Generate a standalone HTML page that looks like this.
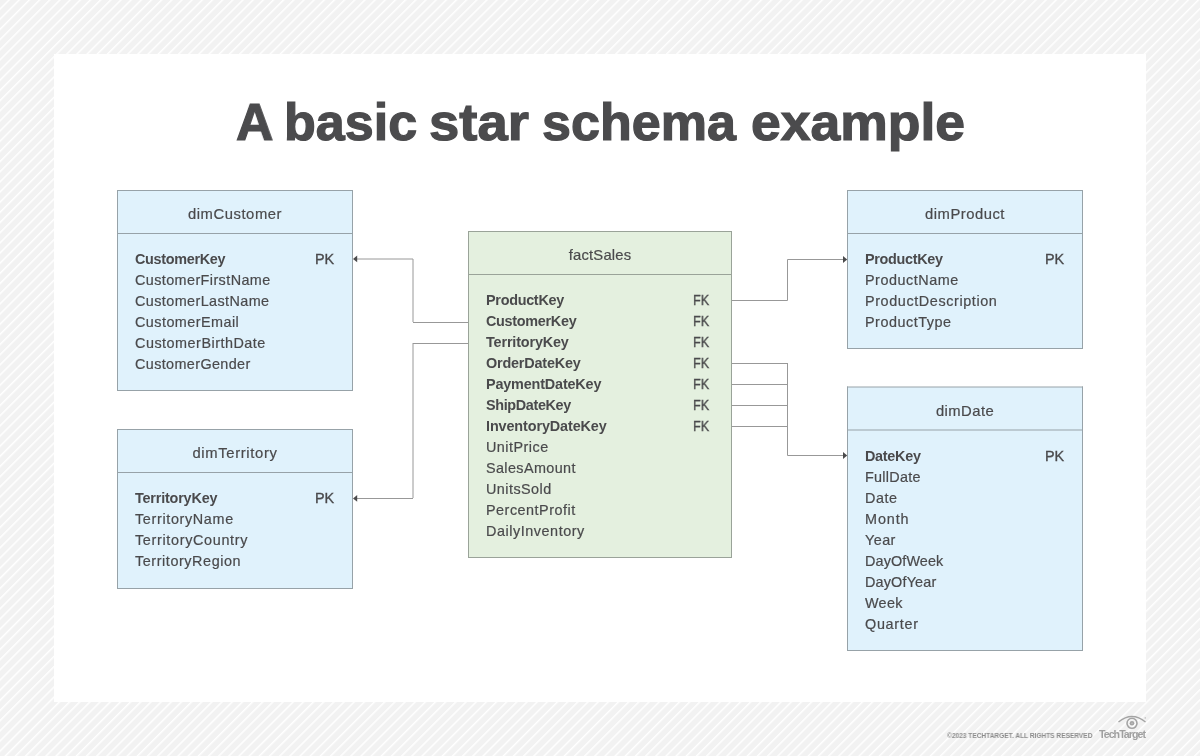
<!DOCTYPE html>
<html><head><meta charset="utf-8"><title>A basic star schema example</title>
<style>
*{margin:0;padding:0;box-sizing:border-box}
html,body{width:1200px;height:756px;overflow:hidden}
body{position:relative;font-family:"Liberation Sans",sans-serif;color:#4a4a4c;background:#f2f2f2}
svg{position:absolute;left:0;top:0}
.panel{position:absolute;left:54px;top:54px;width:1092px;height:648px;background:#fff}
.tw{position:absolute;font-weight:700;font-size:52px;line-height:60px;color:#4b4b4d;white-space:nowrap;transform-origin:0 0;-webkit-text-stroke:1.2px #4b4b4d}
.ht{position:absolute;text-align:center;font-size:14.8px;line-height:20px;white-space:nowrap;letter-spacing:0.55px}
.r{position:absolute;font-size:14.4px;line-height:21px;white-space:nowrap;letter-spacing:0.5px}
.r.b{font-weight:700;letter-spacing:-0.15px}
.k{position:absolute;font-size:14.4px;line-height:21px;white-space:nowrap}
.r,.k,.ht,.tw,.copy,.logo{will-change:transform}
.r,.ht{-webkit-text-stroke:0.2px #4a4a4c}
.k{-webkit-text-stroke:0.35px #4a4a4c}
.r.b{-webkit-text-stroke:0}
.copy{position:absolute;left:947px;top:730.5px;font-size:6.8px;font-weight:700;color:#8c8c8c;white-space:nowrap;line-height:9px;transform:scaleX(0.966);transform-origin:0 0}
.logo{position:absolute;left:1099px;top:728px;font-size:10.6px;font-weight:700;color:#a0a0a0;white-space:nowrap;line-height:12px;letter-spacing:-0.95px}
</style></head><body>
<svg width="1200" height="756">
 <defs><pattern id="st" width="7.188" height="20" patternUnits="userSpaceOnUse" patternTransform="translate(-2.15 0) rotate(45)">
  <rect width="7.188" height="20" fill="#f2f2f2"/><rect x="0" width="1.5" height="20" fill="#ffffff"/></pattern></defs>
 <rect width="1200" height="756" fill="url(#st)"/>
</svg>
<div class="panel"></div>
<svg width="1200" height="756">
 <rect x="117" y="190.5" width="236" height="200.0" fill="#e0f2fc"/>
 <path d="M117 190.5H353M117 233.5H353M117 390.5H353M117.5 190.0V391.0M352.5 190.0V391.0" fill="none" stroke="#97a2a8"/>
 <rect x="117" y="429.5" width="236" height="159.0" fill="#e0f2fc"/>
 <path d="M117 429.5H353M117 472.5H353M117 588.5H353M117.5 429.0V589.0M352.5 429.0V589.0" fill="none" stroke="#97a2a8"/>
 <rect x="468" y="231.5" width="264" height="326.0" fill="#e4f0df"/>
 <path d="M468 231.5H732M468 274.5H732M468 557.5H732M468.5 231.0V558.0M731.5 231.0V558.0" fill="none" stroke="#9aa399"/>
 <rect x="847" y="190.5" width="236" height="158.0" fill="#e0f2fc"/>
 <path d="M847 190.5H1083M847 233.5H1083M847 348.5H1083M847.5 190.0V349.0M1082.5 190.0V349.0" fill="none" stroke="#97a2a8"/>
 <rect x="847" y="387.0" width="236" height="263.5" fill="#e0f2fc"/>
 <path d="M847 387.0H1083M847 430.0H1083M847 650.5H1083M847.5 386.5V651.0M1082.5 386.5V651.0" fill="none" stroke="#97a2a8"/>
 <g fill="none" stroke="#989898" stroke-width="1">
  <path d="M356 259H413V322"/>
  <path d="M413 322.5H468"/>
  <path d="M413 343.5H468"/>
  <path d="M413 343V498"/>
  <path d="M356 498.5H413"/>
  <path d="M732 300.5H787.5V259.5H844"/>
  <path d="M732 363.5H787.5M732 384.5H787.5M732 405.5H787.5M732 426.5H787.5M787.5 363V455.5H844"/>
 </g>
 <g fill="#4a4a4c">
  <path d="M353 258.9L357.2 255.6V262.2Z"/>
  <path d="M353 498.4L357.2 495.1V501.7Z"/>
  <path d="M847.2 259.5L843 256.1V262.9Z"/>
  <path d="M847.2 455.5L843 452.1V458.9Z"/>
 </g>
</svg>
<div class="tw" style="left:235.61px;top:91.98px;transform:scaleX(0.9942)">A</div>
<div class="tw" style="left:283.90px;top:91.98px;transform:scaleX(1.0008)">basic</div>
<div class="tw" style="left:428.93px;top:91.98px;transform:scaleX(1.0467)">star</div>
<div class="tw" style="left:542.20px;top:91.98px;transform:scaleX(1.0010)">schema</div>
<div class="tw" style="left:750.56px;top:91.98px;transform:scaleX(1.0283)">example</div>
<div class="ht" style="left:117px;top:203.67px;width:236px;letter-spacing:0.55px">dimCustomer</div>
<div class="r b" style="left:135px;top:249.21px;letter-spacing:-0.300px">CustomerKey</div>
<div class="k" style="right:866px;top:249.21px">PK</div>
<div class="r" style="left:135px;top:270.21px;letter-spacing:0.406px">CustomerFirstName</div>
<div class="r" style="left:135px;top:291.21px;letter-spacing:0.407px">CustomerLastName</div>
<div class="r" style="left:135px;top:312.21px;letter-spacing:0.450px">CustomerEmail</div>
<div class="r" style="left:135px;top:333.21px;letter-spacing:0.500px">CustomerBirthDate</div>
<div class="r" style="left:135px;top:354.21px;letter-spacing:0.377px">CustomerGender</div>
<div class="ht" style="left:117px;top:442.67px;width:236px;letter-spacing:0.66px">dimTerritory</div>
<div class="r b" style="left:135px;top:488.21px;letter-spacing:-0.187px">TerritoryKey</div>
<div class="k" style="right:866px;top:488.21px">PK</div>
<div class="r" style="left:135px;top:509.21px;letter-spacing:0.650px">TerritoryName</div>
<div class="r" style="left:135px;top:530.21px;letter-spacing:0.673px">TerritoryCountry</div>
<div class="r" style="left:135px;top:551.21px;letter-spacing:0.572px">TerritoryRegion</div>
<div class="ht" style="left:468px;top:244.67px;width:264px;letter-spacing:0.2px">factSales</div>
<div class="r b" style="left:486px;top:290.21px;letter-spacing:-0.284px">ProductKey</div>
<div class="k" style="left:692.6px;top:290.21px;transform:scaleX(0.88);transform-origin:0 0">FK</div>
<div class="r b" style="left:486px;top:311.21px;letter-spacing:-0.290px">CustomerKey</div>
<div class="k" style="left:692.6px;top:311.21px;transform:scaleX(0.88);transform-origin:0 0">FK</div>
<div class="r b" style="left:486px;top:332.21px;letter-spacing:-0.150px">TerritoryKey</div>
<div class="k" style="left:692.6px;top:332.21px;transform:scaleX(0.88);transform-origin:0 0">FK</div>
<div class="r b" style="left:486px;top:353.21px;letter-spacing:-0.187px">OrderDateKey</div>
<div class="k" style="left:692.6px;top:353.21px;transform:scaleX(0.88);transform-origin:0 0">FK</div>
<div class="r b" style="left:486px;top:374.21px;letter-spacing:-0.165px">PaymentDateKey</div>
<div class="k" style="left:692.6px;top:374.21px;transform:scaleX(0.88);transform-origin:0 0">FK</div>
<div class="r b" style="left:486px;top:395.21px;letter-spacing:-0.350px">ShipDateKey</div>
<div class="k" style="left:692.6px;top:395.21px;transform:scaleX(0.88);transform-origin:0 0">FK</div>
<div class="r b" style="left:486px;top:416.21px;letter-spacing:-0.110px">InventoryDateKey</div>
<div class="k" style="left:692.6px;top:416.21px;transform:scaleX(0.88);transform-origin:0 0">FK</div>
<div class="r" style="left:486px;top:437.21px;letter-spacing:0.474px">UnitPrice</div>
<div class="r" style="left:486px;top:458.21px;letter-spacing:0.380px">SalesAmount</div>
<div class="r" style="left:486px;top:479.21px;letter-spacing:0.449px">UnitsSold</div>
<div class="r" style="left:486px;top:500.21px;letter-spacing:0.500px">PercentProfit</div>
<div class="r" style="left:486px;top:521.21px;letter-spacing:0.546px">DailyInventory</div>
<div class="ht" style="left:847px;top:203.67px;width:236px;letter-spacing:0.5px">dimProduct</div>
<div class="r b" style="left:865px;top:249.21px;letter-spacing:-0.306px">ProductKey</div>
<div class="k" style="right:136px;top:249.21px">PK</div>
<div class="r" style="left:865px;top:270.21px;letter-spacing:0.520px">ProductName</div>
<div class="r" style="left:865px;top:291.21px;letter-spacing:0.606px">ProductDescription</div>
<div class="r" style="left:865px;top:312.21px;letter-spacing:0.520px">ProductType</div>
<div class="ht" style="left:847px;top:400.67px;width:236px;letter-spacing:0.45px">dimDate</div>
<div class="r b" style="left:865px;top:446.21px;letter-spacing:-0.284px">DateKey</div>
<div class="k" style="right:136px;top:446.21px">PK</div>
<div class="r" style="left:865px;top:467.21px;letter-spacing:0.272px">FullDate</div>
<div class="r" style="left:865px;top:488.21px;letter-spacing:0.500px">Date</div>
<div class="r" style="left:865px;top:509.21px;letter-spacing:0.900px">Month</div>
<div class="r" style="left:865px;top:530.21px;letter-spacing:0.433px">Year</div>
<div class="r" style="left:865px;top:551.21px;letter-spacing:0.125px">DayOfWeek</div>
<div class="r" style="left:865px;top:572.21px;letter-spacing:0.176px">DayOfYear</div>
<div class="r" style="left:865px;top:593.21px;letter-spacing:0.300px">Week</div>
<div class="r" style="left:865px;top:614.21px;letter-spacing:0.700px">Quarter</div>
<div class="copy">©2023 TECHTARGET. ALL RIGHTS RESERVED</div>
<svg width="1200" height="756">
 <g fill="none" stroke="#a4a4a4">
  <path d="M1118.5 722Q1132 711 1145.5 722" stroke-width="1.4"/>
  <circle cx="1132" cy="723.3" r="5" stroke-width="1.6"/>
 </g>
 <circle cx="1132" cy="723.3" r="2.3" fill="#a4a4a4"/>
 <circle cx="1132" cy="723.3" r="0.7" fill="#c8c8c8"/>
 <circle cx="1145.2" cy="717.9" r="0.6" fill="#a4a4a4"/>
</svg>
<div class="logo">TechTarget</div>
</body></html>
